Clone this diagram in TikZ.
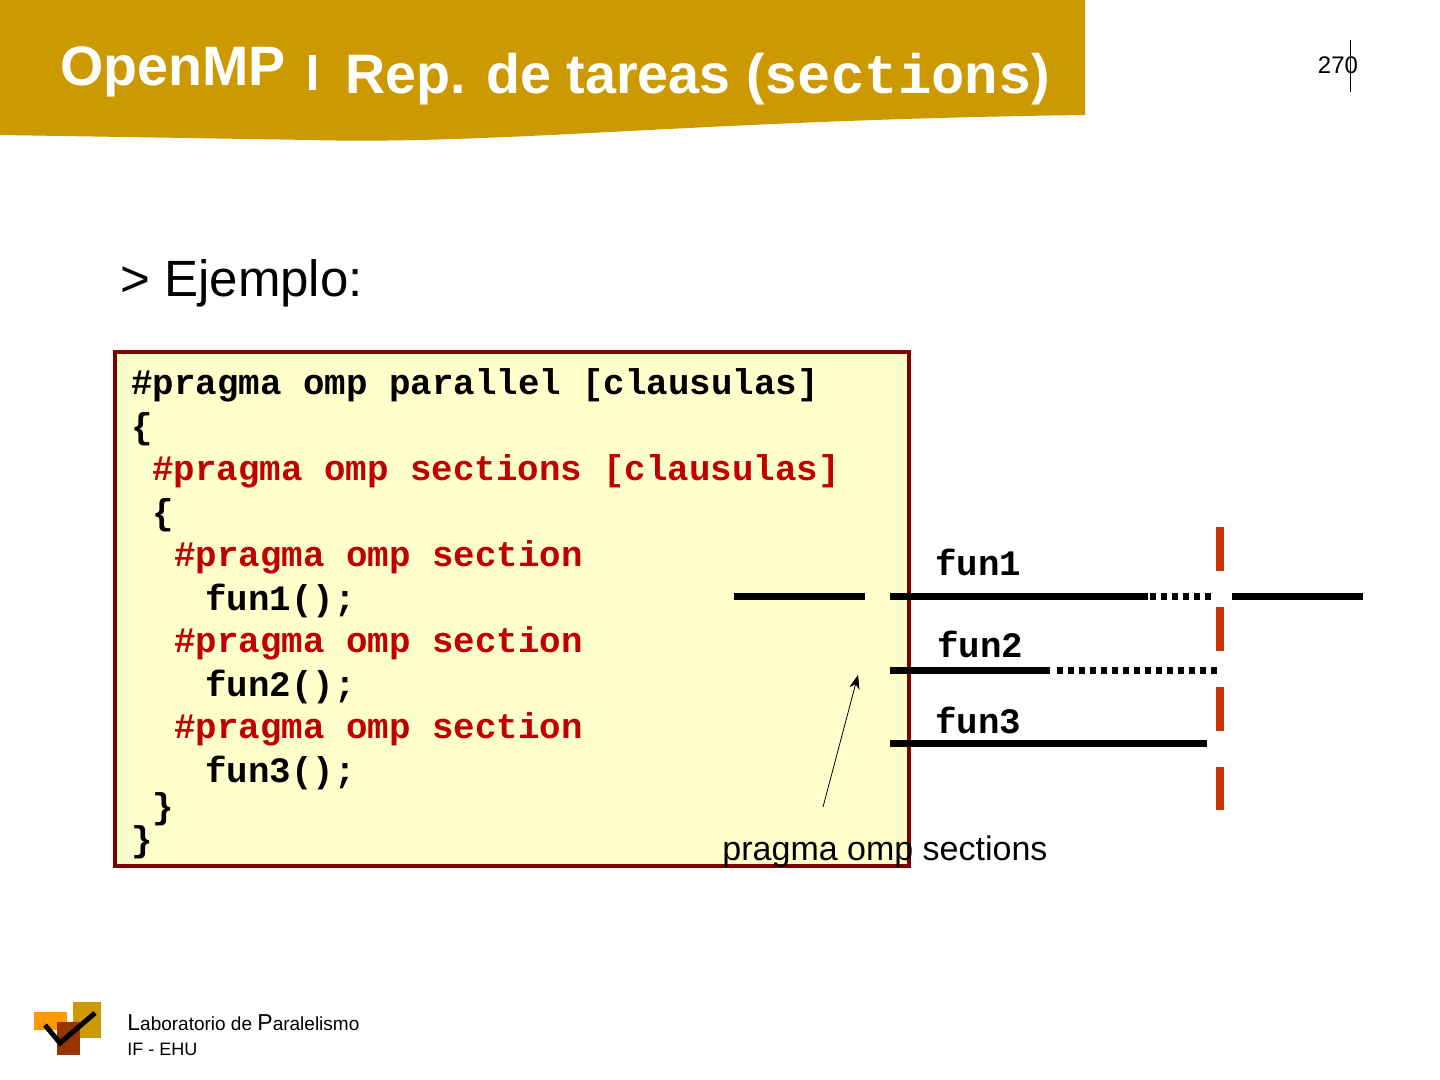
\documentclass[tikz,border=0pt]{standalone}
\usepackage{fontspec}
\setmainfont{Liberation Sans}
\newfontfamily\codefont{Liberation Mono}
\usetikzlibrary{arrows.meta}
\definecolor{gold}{HTML}{CC9900}
\definecolor{boxred}{HTML}{800000}
\definecolor{kwred}{HTML}{C00000}
\definecolor{barred}{HTML}{CC3300}
\definecolor{paper}{HTML}{FFFFCC}
\definecolor{logobrown}{HTML}{993300}
\definecolor{logoorange}{HTML}{FF9900}
\tikzset{
  code/.style={anchor=west, inner sep=0pt, font=\codefont\bfseries\fontsize{17.9}{20}\selectfont},
  kw/.style={code, text=kwred},
  head/.style={anchor=base west, inner sep=0pt, text=white, font=\bfseries\fontsize{27.8}{32}\selectfont},
  thread/.style={line width=3.5pt},
  wait/.style={line width=3.5pt, dash pattern=on 3pt off 2.5pt},
}
\begin{document}
\begin{tikzpicture}[x=0.5pt,y=-0.5pt]
  \useasboundingbox (0,0) rectangle (1440,1080);
  % header
  \fill[gold] (0,0) -- (1085,0) -- (1085,115) .. controls (700,120) and (500,145) .. (310,140) -- (0,135) -- cycle;
  \node[head] (omp) at (60,86) {OpenMP};
  \fill[white] (309,55) rectangle (316,90);
  \node[head] (title) at (345,94) {Rep. de tareas ({\codefont\bfseries sections})};
  \node[anchor=base, font=\fontsize{12}{14}\selectfont] (page) at (1338,74) {270};
  \draw (1350,40) -- (1350,92);

  \node[anchor=base west, inner sep=0pt, font=\fontsize{25.5}{30}\selectfont] (ejemplo) at (120,297) {> Ejemplo:};

  % code box
  \draw[boxred, fill=paper, line width=1.6pt] (115,352) rectangle (909,866);
  \node[code] (l1)  at (131,385) {\#pragma omp parallel [clausulas]};
  \node[code] (l2)  at (131,429) {\{};
  \node[kw]   (l3)  at (152,471) {\#pragma omp sections [clausulas]};
  \node[code] (l4)  at (152,515) {\{};
  \node[kw]   (l5)  at (174,557) {\#pragma omp section};
  \node[code] (l6)  at (205,601) {fun1();};
  \node[kw]   (l7)  at (174,643) {\#pragma omp section};
  \node[code] (l8)  at (205,687) {fun2();};
  \node[kw]   (l9)  at (174,729) {\#pragma omp section};
  \node[code] (l10) at (205,773) {fun3();};
  \node[code] (l11) at (152,809) {\}};
  \node[code] (l12) at (131,842) {\}};

  % threads
  \node[code] (f1) at (935,562) {fun1};
  \node[code] (f2) at (937,644) {fun2};
  \node[code] (f3) at (935,720) {fun3};
  \draw[thread] (734,596) -- (865,596);
  \draw[thread] (890,596) -- (1148,596);
  \draw[wait]   (1150,596) -- (1215,596);
  \draw[thread] (1232,596) -- (1363,596);
  \draw[thread] (890,670) -- (1050,670);
  \draw[wait]   (1057,670) -- (1217,670);
  \draw[thread] (890,743) -- (1207,743);
  \draw[barred, line width=4pt, dash pattern=on 22pt off 18pt] (1220,527) -- (1220,810);

  \coordinate (tip) at (858,675);
  \node[font=\fontsize{17}{20}\selectfont] (lbl) at (885,852) {pragma omp sections};
  \draw[-{Stealth[length=7pt]}, thin] (823,807) -- (tip);

  % footer
  \fill[logoorange] (34,1012) rectangle (67,1030);
  \fill[gold] (73,1002) rectangle (101,1038);
  \fill[logobrown] (57,1022) rectangle (80,1055);
  \draw[line width=2.5pt] (45,1025) -- (60,1043) -- (95,1013);
  \node[anchor=base west, inner sep=0pt, font=\fontsize{9.5}{11}\selectfont] (lab) at (127,1030) {{\fontsize{11.5}{12}\selectfont L}aboratorio de {\fontsize{11.5}{12}\selectfont P}aralelismo};
  \node[anchor=base west, inner sep=0pt, font=\fontsize{9}{11}\selectfont] (ehu) at (127,1055) {IF - EHU};
\end{tikzpicture}
\end{document}
